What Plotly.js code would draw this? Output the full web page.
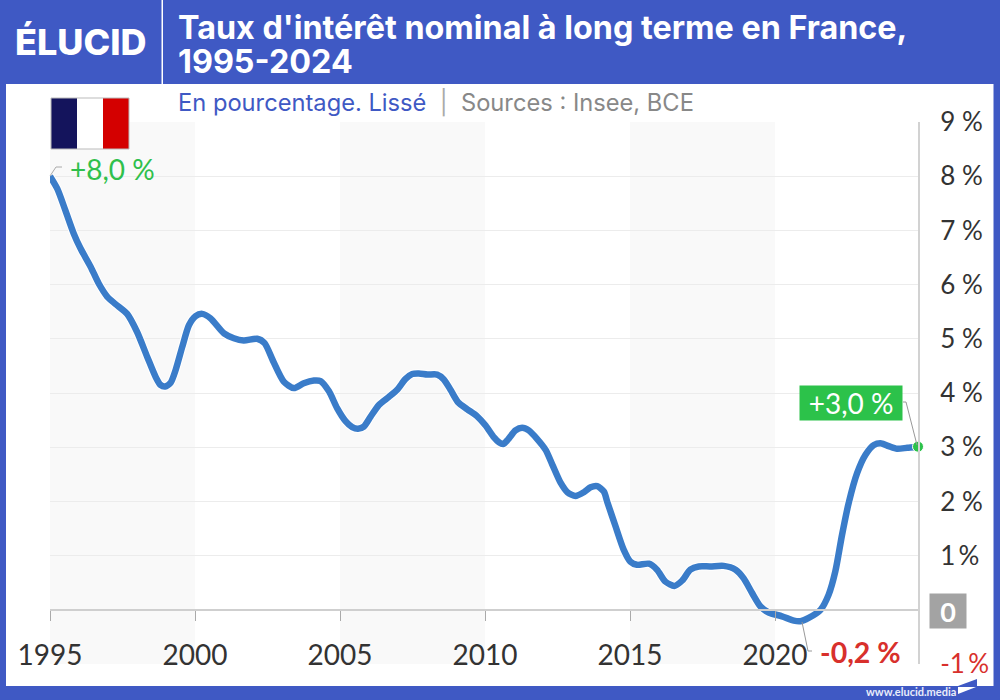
<!DOCTYPE html>
<html><head><meta charset="utf-8">
<script src="https://cdn.plot.ly/plotly-3.0.1.min.js"></script>
<style>html,body{margin:0;padding:0;background:#fff}#c{width:1000px;height:700px}</style>
</head><body><div id="c"></div>
<script>
const years=[1995.0,1995.25,1995.53,1995.82,1996.05,1996.4,1996.68,1996.97,1997.26,1997.66,1998.0,1998.35,1998.64,1998.81,1998.97,1999.16,1999.33,1999.56,1999.79,2000.02,2000.25,2000.53,2001.0,2001.34,2001.68,2002.14,2002.4,2002.7,2003.06,2003.41,2003.75,2004.1,2004.33,2004.62,2004.9,2005.19,2005.42,2005.62,2005.82,2006.05,2006.34,2006.69,2006.97,2007.26,2007.49,2007.72,2008.01,2008.35,2008.58,2008.81,2009.07,2009.39,2009.73,2010.02,2010.31,2010.48,2010.63,2010.79,2011.05,2011.28,2011.51,2011.8,2012.09,2012.32,2012.61,2012.84,2013.12,2013.41,2013.64,2013.87,2014.1,2014.21,2014.5,2014.78,2015.01,2015.24,2015.65,2015.93,2016.22,2016.53,2016.8,2017.08,2017.37,2017.77,2018.23,2018.64,2018.92,2019.21,2019.5,2019.78,2020.24,2020.65,2020.88,2021.16,2021.57,2021.85,2022.08,2022.31,2022.54,2022.83,2023.12,2023.41,2023.67,2023.92,2024.21,2024.56,2024.79,2024.93];
const rates=[8.0,7.77,7.37,6.94,6.67,6.33,6.02,5.78,5.64,5.46,5.13,4.67,4.30,4.15,4.12,4.19,4.42,4.85,5.25,5.42,5.46,5.38,5.10,5.01,4.97,5.0,4.92,4.58,4.21,4.09,4.18,4.23,4.22,4.03,3.72,3.48,3.37,3.34,3.38,3.56,3.78,3.93,4.06,4.26,4.35,4.36,4.34,4.34,4.25,4.06,3.83,3.70,3.57,3.40,3.18,3.09,3.06,3.14,3.31,3.36,3.31,3.15,2.95,2.68,2.34,2.17,2.10,2.17,2.26,2.28,2.18,2.0,1.54,1.11,0.89,0.83,0.85,0.74,0.52,0.44,0.54,0.74,0.80,0.80,0.81,0.74,0.58,0.31,0.06,-0.05,-0.12,-0.20,-0.21,-0.15,0.0,0.28,0.71,1.38,1.97,2.52,2.86,3.04,3.07,3.02,2.97,2.99,3.0,3.01];
const xTicks=[1995,2000,2005,2010,2015,2020];
const yTicks=[-1,0,1,2,3,4,5,6,7,8,9];
const yLabels=["<span style='color:#d8302c'>-1\u2009%</span>"," ","1\u2009%","2 %","3 %","4 %","5 %","6 %","7 %","8 %","9 %"];
const bandStarts=[1995,2005,2015];
const titleLines=["Taux d'intérêt nominal à long terme en France,","1995-2024"];
const subtitle="En pourcentage. Lissé";
const sources="Sources : Insee, BCE";
const FONT="Lato, 'Open Sans', sans-serif";
const HEAD="Inter, Lato, sans-serif";
const BLUE="#3f59c4", GREEN="#2cc24a";
const L=50,R=82,T=122,B=36,W=1000,H=700,PW=W-L-R,PH=H-T-B;
const px=x=>(x-L)/PW, py=y=>1-(y-T)/PH;
const rect=(x0,y0,x1,y1,fill,layer)=>({type:'rect',xref:'paper',yref:'paper',x0:px(x0),x1:px(x1),y0:py(y0),y1:py(y1),fillcolor:fill,line:{width:0},layer:layer||'below'});
const poly=(pts,color,w)=>({type:'path',xref:'paper',yref:'paper',path:'M'+pts.map(p=>px(p[0])+','+py(p[1])).join('L'),line:{color:color,width:w},layer:'above'});
const fillPoly=(pts,fill)=>({type:'path',xref:'paper',yref:'paper',path:'M'+pts.map(p=>px(p[0])+','+py(p[1])).join('L')+'Z',fillcolor:fill,line:{width:0},layer:'above'});
const txt=(x,y,text,size,color,extra,weight,family)=>Object.assign({xref:'paper',yref:'paper',x:px(x),y:py(y),text:text,showarrow:false,xanchor:'left',yanchor:'middle',borderpad:0,font:{family:family||FONT,size:size,color:color,weight:weight||400}},extra||{});
const shapes=[
 rect(6,84,993.5,686,'#ffffff'),
 rect(161.5,0,163,84,'#ffffff'),
];
bandStarts.forEach(b=>shapes.push({type:'rect',xref:'x',yref:'y',x0:b,x1:b+5,y0:-1,y1:9,fillcolor:'#f9f9f9',line:{width:0},layer:'below'}));
shapes.push(
 rect(51,98,77,149,'#14145c','above'),
 rect(77,98,103,149,'#ffffff','above'),
 rect(103,98,129,149,'#d40000','above'),
 {type:'rect',xref:'paper',yref:'paper',x0:px(51),x1:px(129),y0:py(98),y1:py(149),line:{color:'#bbbbbb',width:1},layer:'above'},
 poly([[50,176],[56,167],[62,167]],'#aaaaaa',1),
 poly([[903,402],[906,402],[917,445]],'#999999',1),
 poly([[802,622],[808,651],[812,651]],'#999999',1),
 fillPoly([[958,686],[977,679],[977,686]],BLUE),
 fillPoly([[958,687],[976,687],[958,694]],'#ffffff')
);
const annotations=[
 txt(14,42,"ÉLUCID",36,'#ffffff',{},800,HEAD),
 txt(177,27,titleLines[0],32.3,'#ffffff',{},700,HEAD),
 txt(177,62,titleLines[1],32.3,'#ffffff',{},700,HEAD),
 txt(177,102,"<span style='color:"+BLUE+"'>"+subtitle+"</span><span style='color:#aaa'>  |  </span><span style='color:#888'>"+sources+"</span>",23.7,'#888888',{},400,HEAD),
 txt(69,169,"+8,0 %",28,'#2fc04c'),
 txt(800,403,"+3,0 %",28,'#ffffff',{xanchor:'center',x:px(851),width:102,height:34,bgcolor:GREEN,align:'center',valign:'middle'}),
 txt(819,652,"-0,2 %",28.5,'#d8302c',{},700),
 txt(948,611,"0",27,'#ffffff',{xanchor:'center',x:px(948),width:36,height:34,bgcolor:'#a3a3a3',align:'center',valign:'middle'},700),
 txt(865,691,"www.elucid.media",11,'#e8ecfa',{},700)
];
const data=[
 {type:'scatter',mode:'lines',x:years,y:rates,line:{color:'#ffffff',width:8.5,shape:'spline',smoothing:0.7},hoverinfo:'skip',showlegend:false},
 {type:'scatter',mode:'lines',x:years,y:rates,line:{color:'#3a7cc9',width:6.5,shape:'spline',smoothing:0.7},showlegend:false},
 {type:'scatter',mode:'markers',x:[years[years.length-1]],y:[rates[rates.length-1]],marker:{color:GREEN,size:11,line:{color:'#ffffff',width:1}},cliponaxis:false,showlegend:false}
];
const layout={
 width:W,height:H,autosize:false,margin:{l:L,r:R,t:T,b:B,pad:0},
 paper_bgcolor:BLUE,plot_bgcolor:'rgba(0,0,0,0)',showlegend:false,
 font:{family:FONT,color:'#333'},
 xaxis:{range:[1995,2024.93],anchor:'free',position:0.1,tickmode:'array',tickvals:xTicks,ticktext:xTicks.map(String),ticks:'outside',ticklen:10,tickcolor:'#aaaaaa',tickwidth:1,showgrid:false,zeroline:false,showline:true,linecolor:'#cfcfcf',linewidth:2,ticklabelstandoff:11,tickfont:{family:FONT,size:28,color:'#333333'},automargin:false},
 yaxis:{range:[-1,9],side:'right',tickmode:'array',tickvals:yTicks,ticktext:yLabels,ticks:'',showgrid:true,gridcolor:'#ececec',gridwidth:1,zeroline:false,showline:true,linecolor:'#d2d2d2',linewidth:2,ticklabelstandoff:15,tickfont:{family:FONT,size:26,color:'#333333'},automargin:false},
 shapes:shapes,annotations:annotations
};
Plotly.newPlot('c',data,layout,{displayModeBar:false,staticPlot:true});
</script></body></html>
